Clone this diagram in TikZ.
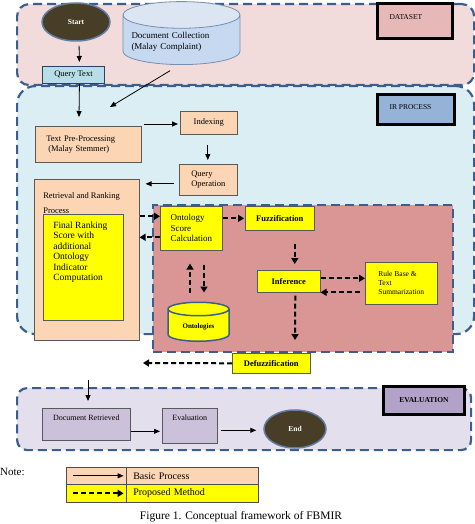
\documentclass[tikz,border=0pt]{standalone}
\usepackage{fontspec}
\setmainfont{Liberation Serif}
\usetikzlibrary{shapes.geometric,arrows.meta,positioning}
\definecolor{regblue}{HTML}{3B5E8C}
\definecolor{dsfill}{HTML}{F2DCDB}
\definecolor{irfill}{HTML}{DAEEF3}
\definecolor{evfill}{HTML}{E4DFEC}
\definecolor{fzfill}{HTML}{D99694}
\definecolor{peach}{HTML}{FCD5B5}
\definecolor{yel}{HTML}{FFFF00}
\definecolor{qfill}{HTML}{B7DEE8}
\definecolor{dslab}{HTML}{E6B9B8}
\definecolor{irlab}{HTML}{95B3D7}
\definecolor{evlab}{HTML}{B3A2C7}
\definecolor{drfill}{HTML}{CCC1DA}
\definecolor{termfill}{HTML}{483E27}
\definecolor{cylbody}{HTML}{C6D9F1}
\definecolor{cylend}{HTML}{DCE6F2}

\begin{document}
\begin{tikzpicture}[x=1pt,y=-1pt,
    region/.style={draw=regblue, line width=2.2pt, dash pattern=on 9pt off 5pt, anchor=north west, inner sep=0pt},
    box/.style={draw=black!65, line width=0.6pt, anchor=north west, inner sep=0pt, font=\fontsize{8.5}{10}\selectfont},
    tag/.style={draw=black, line width=3pt, anchor=north west, inner sep=0pt, font=\fontsize{7.5}{9}\selectfont},
    term/.style={ellipse, draw=regblue!80, line width=1.5pt, fill=termfill, text=white, font=\bfseries\fontsize{7.5}{9}\selectfont},
    cell/.style={draw=black!70, line width=0.6pt, anchor=north west, inner sep=0pt, font=\fontsize{10}{12}\selectfont},
    basic/.style={line width=0.8pt, -{Triangle[length=6pt,width=5pt]}},
    proposed/.style={line width=2pt, dash pattern=on 5pt off 3pt, -{Triangle[length=6pt,width=7pt]}}
  ]
  \useasboundingbox (0,0) rectangle (474,524);
  % regions
  \node[region, fill=dsfill, rounded corners=12pt, minimum width=457pt, minimum height=81pt] (dataset) at (16,3) {};
  \node[region, fill=irfill, rounded corners=18pt, minimum width=457pt, minimum height=248pt] (irproc) at (16,85) {};
  \node[region, fill=evfill, rounded corners=10pt, minimum width=454pt, minimum height=62pt] (evalreg) at (16,387) {};
  \node[region, fill=fzfill, minimum width=300pt, minimum height=147pt] (fuzzy) at (152,204) {};

  % dataset
  \node[term, minimum width=68pt, minimum height=38pt] (start) at (76,22) {Start};
  \node[cylinder, shape border rotate=90, aspect=0.25, draw=regblue!70, line width=0.8pt,
    cylinder uses custom fill, cylinder body fill=cylbody, cylinder end fill=cylend,
    minimum width=117pt, minimum height=63pt, text width=100pt, align=left, anchor=south,
    font=\fontsize{9}{11}\selectfont] (doccol) at (181.5,65) {Document Collection\\(Malay Complaint)};
  \node[tag, fill=dslab, minimum width=75pt, minimum height=35pt] (dstag) at (376,2)
    {\parbox[b][35pt][t]{51pt}{\rule{0pt}{16pt}DATASET}};
  \node[box, draw=regblue!70!black, line width=0.9pt, fill=qfill, minimum width=62pt, minimum height=17pt] (qtext) at (42,66) {Query Text};

  % ir process
  \node[tag, fill=irlab, minimum width=77pt, minimum height=30pt] (irtag) at (376,93)
    {\parbox[b][30pt][t]{53pt}{\rule{0pt}{15pt}IR PROCESS}};
  \node[box, fill=peach, minimum width=106pt, minimum height=36pt, text width=84pt, align=left] (tpp) at (35,126)
    {Text Pre-Processing\\\hspace{2pt}(Malay Stemmer)};
  \node[box, fill=peach, minimum width=57pt, minimum height=23pt] (indexing) at (180,111) {Indexing};
  \node[box, fill=peach, minimum width=58pt, minimum height=31pt, align=left] (queryop) at (179,164) {Query\\Operation};
  \node[box, fill=peach, minimum width=105pt, minimum height=161pt] (retrieval) at (34,179)
    {\parbox[b][161pt][t]{87pt}{\rule{0pt}{19pt}Retrieval and Ranking\\[5pt]Process}};
  \node[box, fill=yel, minimum width=80pt, minimum height=106pt, font=\fontsize{9.5}{10.5}\selectfont] (finalrank) at (43,214)
    {\parbox[b][106pt][t]{60pt}{\rule{0pt}{14pt}Final Ranking\\Score with\\additional\\Ontology\\Indicator\\Computation}};

  % fuzzy part
  \node[box, fill=yel, minimum width=62pt, minimum height=44pt, align=left, font=\fontsize{9}{10.5}\selectfont] (ontscore) at (160,206)
    {Ontology\\Score\\Calculation};
  \node[box, fill=yel, minimum width=69pt, minimum height=24pt, font=\bfseries\fontsize{8.5}{10}\selectfont] (fuzzif) at (245,206) {Fuzzification};
  \node[box, fill=yel, minimum width=63pt, minimum height=22pt, font=\bfseries\fontsize{8.5}{10}\selectfont] (inference) at (257,270) {Inference};
  \node[box, fill=yel, minimum width=72pt, minimum height=42pt, align=left, font=\fontsize{7.5}{9}\selectfont] (rulebase) at (365,262)
    {Rule Base \&\\Text\\Summarization};
  \node[cylinder, shape border rotate=90, aspect=0.35, draw=regblue, line width=1.5pt, fill=yel, anchor=south,
    minimum width=61pt, minimum height=39pt, font=\bfseries\fontsize{7}{8}\selectfont] (ontologies) at (198.5,342) {Ontologies};
  \node[box, fill=yel, minimum width=78pt, minimum height=20pt, font=\bfseries\fontsize{8.5}{10}\selectfont] (defuzz) at (232,353) {Defuzzification};

  % evaluation
  \node[tag, fill=evlab, minimum width=81pt, minimum height=28pt, font=\bfseries\fontsize{7.5}{9}\selectfont] (evtag) at (382,385) {EVALUATION};
  \node[box, fill=drfill, minimum width=88pt, minimum height=32pt, font=\fontsize{8}{9}\selectfont] (docret) at (42,408)
    {\parbox[b][32pt][t]{80pt}{\centering\rule{0pt}{12pt}Document Retrieved}};
  \node[box, fill=drfill, minimum width=55pt, minimum height=35pt, font=\fontsize{8}{9}\selectfont] (evaluation) at (162,408)
    {\parbox[b][35pt][t]{50pt}{\centering\rule{0pt}{12pt}Evaluation}};
  \node[term, minimum width=62pt, minimum height=38pt] (finish) at (295,429) {End};

  % free ends
  \coordinate (tppin) at (79,117);
  \coordinate (docin) at (110,107);
  \coordinate (defin) at (295,340);
  \coordinate (defout) at (143,363);
  \coordinate (drin) at (88,380);

  % basic process
  \draw[basic, shorten <=4pt, shorten >=4pt] ([xshift=3pt]start.south) -- ([xshift=6pt]qtext.north);
  \draw[basic] ([xshift=6pt]qtext.south) -- (tppin);
  \draw[basic, shorten <=11pt] ([xshift=-2pt]doccol.south) -- (docin);
  \draw[basic, shorten <=2pt, shorten >=2pt] ([yshift=2pt]tpp.north east) -- ([yshift=2pt]tpp.north east -| indexing.west);
  \draw[basic, shorten <=10pt, shorten >=4pt] ([xshift=-1pt]indexing.south) -- ([xshift=-1pt]indexing.south |- queryop.north);
  \draw[basic, shorten <=5pt, shorten >=6pt] ([yshift=-4pt]queryop.west) -- ([yshift=-4pt]queryop.west -| retrieval.east);
  \draw[basic, shorten >=7pt] (drin) -- (drin |- docret.north);
  \draw[basic, shorten >=2pt] ([yshift=-7pt]docret.east) -- ([yshift=-7pt]docret.east -| evaluation.west);
  \draw[basic, shorten <=3pt, shorten >=7pt] ([yshift=-4.5pt]evaluation.east) -- ([yshift=-4.5pt]evaluation.east -| finish.west);

  % proposed method
  \draw[proposed] ([yshift=12pt]retrieval.east |- ontscore.west) -- ([yshift=12pt]ontscore.west);
  \draw[proposed] ([yshift=-9pt]ontscore.west) -- ([yshift=-9pt]retrieval.east |- ontscore.west);
  \draw[proposed, shorten >=1pt] (ontscore.east |- fuzzif.west) -- (fuzzif.west);
  \draw[proposed, shorten <=13pt, shorten >=6pt] ([xshift=15pt]fuzzif.south) -- ([xshift=15pt]fuzzif.south |- inference.north);
  \draw[proposed] ([yshift=3pt]inference.east) -- ([yshift=3pt]inference.east -| rulebase.west);
  \draw[proposed, shorten <=5pt] ([yshift=-11pt]rulebase.west |- inference.east) -- ([yshift=-11pt]inference.east);
  \draw[proposed, shorten <=3pt] ([xshift=6.5pt]inference.south) -- (defin);
  \draw[proposed, shorten <=9pt, shorten >=13pt] ([xshift=-8.5pt]ontologies.north) -- ([xshift=-8.5pt]ontologies.north |- ontscore.south);
  \draw[proposed, shorten <=14pt, shorten >=9pt] ([xshift=5.5pt]ontologies.north |- ontscore.south) -- ([xshift=5.5pt]ontologies.north);
  \draw[proposed] (defuzz.west) -- (defout);

  % legend
  \node[anchor=north west, inner sep=0pt, font=\fontsize{11}{13}\selectfont] (note) at (0,468) {Note:};
  \node[cell, fill=peach, minimum width=60pt, minimum height=17pt] (basicarrow) at (66,467) {};
  \node[cell, fill=peach, minimum width=132pt, minimum height=17pt, text width=118pt, align=left] (basictext) at (126,467) {Basic Process};
  \node[cell, fill=yel, minimum width=60pt, minimum height=18pt] (proparrow) at (66,484) {};
  \node[cell, fill=yel, minimum width=132pt, minimum height=18pt, text width=118pt, align=left] (proptext) at (126,484) {Proposed Method};
  \draw[basic] ([xshift=7pt]basicarrow.west) -- ([xshift=-3pt]basicarrow.east);
  \draw[proposed] ([xshift=7pt]proparrow.west) -- ([xshift=-3pt]proparrow.east);

  \node[font=\fontsize{11.5}{13}\selectfont] (caption) at (241,517) {Figure 1. Conceptual framework of FBMIR};
\end{tikzpicture}
\end{document}
